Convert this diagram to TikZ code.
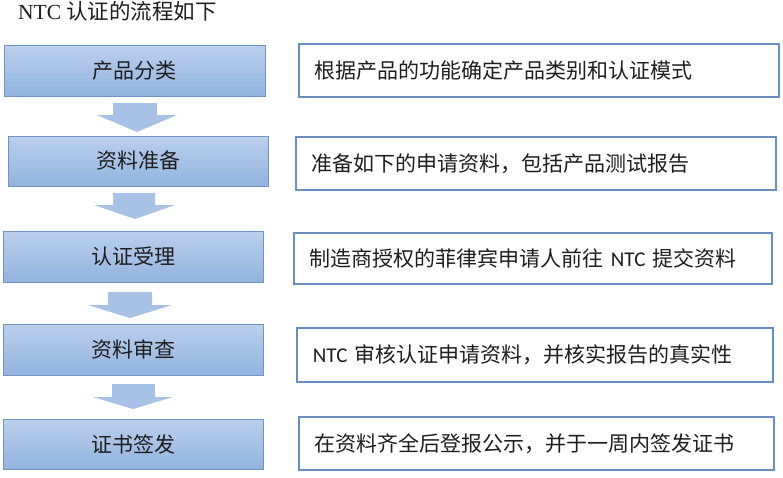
\documentclass[tikz,border=0pt]{standalone}
\usepackage{fontspec}
\setmainfont{Noto Sans CJK SC}
\newfontfamily\serlat{Liberation Serif}
\newfontfamily\callat{Carlito}
\definecolor{ltop}{HTML}{BAD0EC}
\definecolor{lbot}{HTML}{92B3DE}
\definecolor{lborder}{HTML}{7094C4}
\definecolor{rborder}{HTML}{6B8EC0}
\definecolor{arr}{HTML}{A8C2E5}
\definecolor{txt}{HTML}{1E1E1E}
\begin{document}
\begin{tikzpicture}[x=1pt,y=-1pt,
  lbox/.style={draw=lborder, line width=1pt, top color=ltop, bottom color=lbot,
    minimum width=260pt, minimum height=51pt, inner sep=0pt, text=txt,
    font=\fontsize{21}{25}\selectfont},
  rbox/.style={draw=rborder, line width=1.8pt, fill=white, anchor=west,
    inner xsep=16pt, inner ysep=0pt, align=left, text=txt,
    font=\fontsize{21}{25}\selectfont},
  blockarrow/.style={fill=arr, draw=none}]
\useasboundingbox (0,0) rectangle (783,477);
\fill[white] (0,0) rectangle (783,477);

\node[anchor=west, text=txt, font=\fontsize{21.5}{25}\selectfont, inner sep=0pt] (title) at (18,11) {{\serlat NTC} 认证的流程如下};

\node[lbox, minimum width=261pt] (l1) at (134.5,70.5) {产品分类};
\node[lbox, minimum height=50pt] (l2) at (138,161) {资料准备};
\node[lbox] (l3) at (133,256.5) {认证受理};
\node[lbox] (l4) at (133,349.5) {资料审查};
\node[lbox, minimum height=50pt] (l5) at (133,444) {证书签发};

\node[rbox, text width=448pt, minimum height=53pt] (r1) at (298,70.5) {根据产品的功能确定产品类别和认证模式};
\node[rbox, text width=448pt, minimum height=53pt] (r2) at (295,163.5) {准备如下的申请资料，包括产品测试报告};
\node[rbox, text width=446pt, minimum height=51pt] (r3) at (293,258.5) {制造商授权的菲律宾申请人前往 {\callat NTC} 提交资料};
\node[rbox, text width=444pt, minimum height=54pt] (r4) at (296,355) {{\callat NTC} 审核认证申请资料，并核实报告的真实性};
\node[rbox, text width=443pt, minimum height=53pt] (r5) at (298,443.5) {在资料齐全后登报公示，并于一周内签发证书};

\fill[blockarrow] (113,103) -- (157,103) -- (157,115) -- (177,115) -- (137,132) -- (97,115) -- (113,115) -- cycle;
\fill[blockarrow] (113,193) -- (155,193) -- (155,205) -- (175,205) -- (135,219) -- (94,205) -- (113,205) -- cycle;
\fill[blockarrow] (108,292) -- (152,292) -- (152,305) -- (172,305) -- (130,318) -- (88,305) -- (108,305) -- cycle;
\fill[blockarrow] (112,384) -- (155,384) -- (155,397) -- (173,397) -- (133,409) -- (93,397) -- (112,397) -- cycle;
\end{tikzpicture}
\end{document}
